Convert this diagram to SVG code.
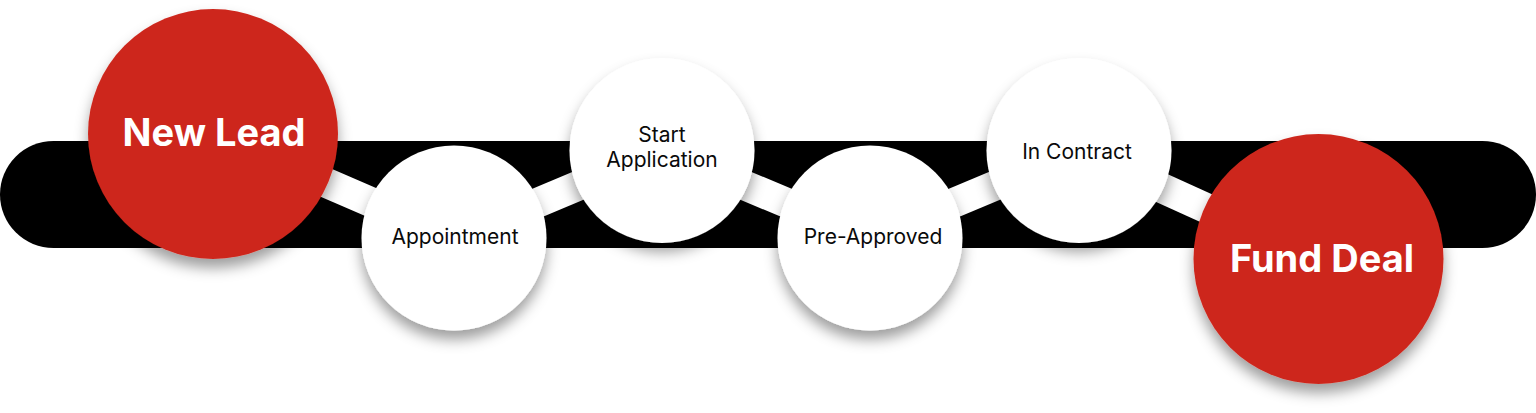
<svg xmlns="http://www.w3.org/2000/svg" width="1536" height="413" viewBox="0 0 1536 413">
  <style>
    .red { fill: #CD281D; }
    .white { fill: #FFFFFF; }
    .big { font-family: Inter, "Liberation Sans", sans-serif; font-weight: 700; font-size: 38px; fill: #FFFFFF; text-anchor: middle; }
    .small { font-family: Inter, "Liberation Sans", sans-serif; font-weight: 400; font-size: 21px; fill: #0A0A0A; text-anchor: middle; }
    .link { stroke: #FFFFFF; stroke-width: 30; fill: none; }
  </style>
  <defs>
    <filter id="shadow" x="-30%" y="-30%" width="160%" height="170%">
      <feDropShadow dx="0" dy="9" stdDeviation="7" flood-color="#000000" flood-opacity="0.38"/>
    </filter>
  </defs>
  <rect id="track" x="0" y="141" width="1536" height="107" rx="53.5" ry="53.5" fill="#000000"/>
  <g id="connectors">
    <line class="link" x1="213" y1="134" x2="454" y2="238"/>
    <line class="link" x1="454" y1="238" x2="662" y2="150.5"/>
    <line class="link" x1="662" y1="150.5" x2="870" y2="238"/>
    <line class="link" x1="870" y1="238" x2="1079" y2="150.5"/>
    <line class="link" x1="1079" y1="150.5" x2="1318.5" y2="259"/>
  </g>
  <g id="node-new-lead">
    <circle class="red" cx="213" cy="134" r="125" filter="url(#shadow)"/>
    <text class="big" x="214" y="146">New Lead</text>
  </g>
  <g id="node-appointment">
    <circle class="white" cx="454" cy="238" r="92.5" filter="url(#shadow)"/>
    <text class="small" x="455" y="243.5">Appointment</text>
  </g>
  <g id="node-start-application">
    <circle class="white" cx="662" cy="150.5" r="92.5" filter="url(#shadow)"/>
    <text class="small" x="662" y="142">Start</text>
    <text class="small" x="662" y="167">Application</text>
  </g>
  <g id="node-pre-approved">
    <circle class="white" cx="870" cy="238" r="92.5" filter="url(#shadow)"/>
    <text class="small" x="873" y="243.5">Pre-Approved</text>
  </g>
  <g id="node-in-contract">
    <circle class="white" cx="1079" cy="150.5" r="92.5" filter="url(#shadow)"/>
    <text class="small" x="1077" y="158.5">In Contract</text>
  </g>
  <g id="node-fund-deal">
    <circle class="red" cx="1318.5" cy="259" r="125" filter="url(#shadow)"/>
    <text class="big" x="1322" y="272">Fund Deal</text>
  </g>
</svg>
